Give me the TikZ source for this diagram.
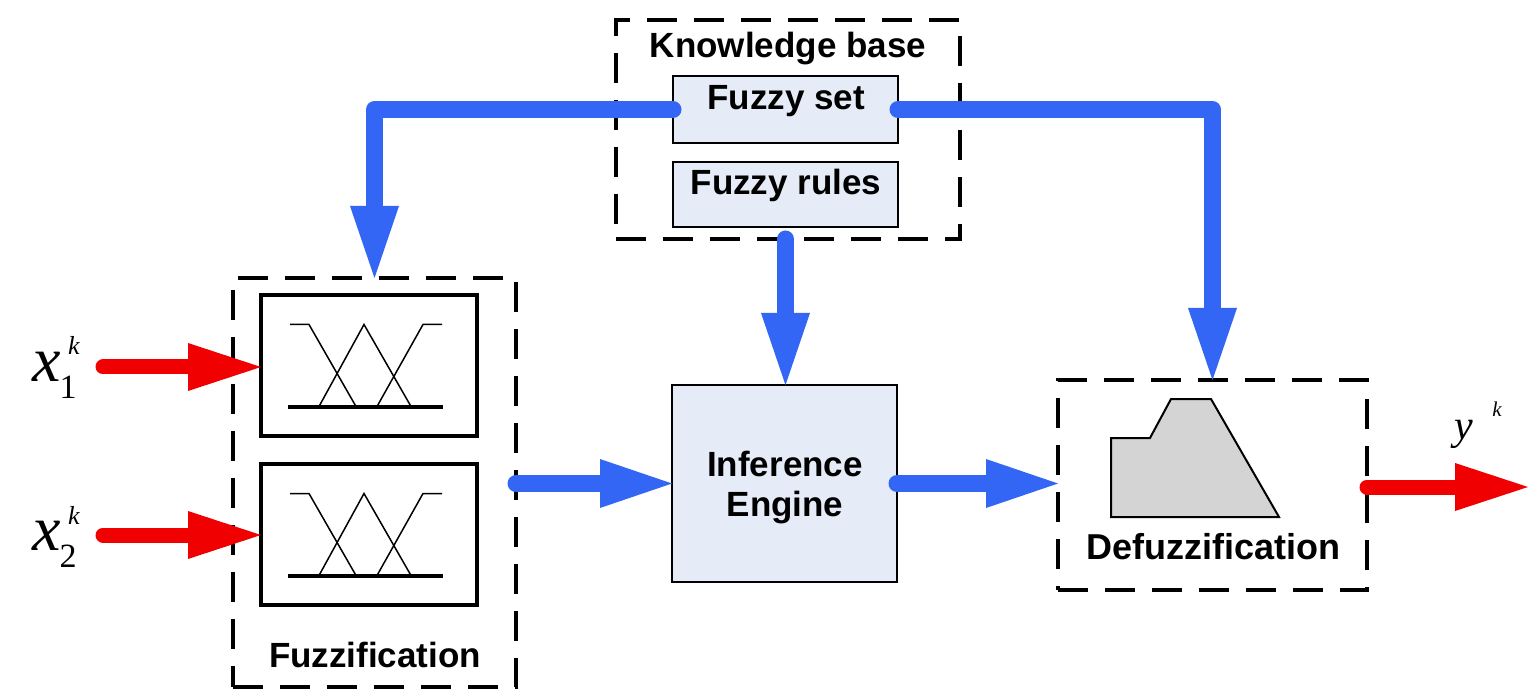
\documentclass[tikz,border=0pt]{standalone}
\usepackage{fontspec}
\setmainfont{Liberation Sans}
\newfontfamily\timesfont{Liberation Serif}
\usetikzlibrary{arrows.meta}
\definecolor{fzblue}{RGB}{51,102,245}
\definecolor{fzred}{RGB}{240,0,0}
\definecolor{boxfill}{RGB}{229,236,248}
\definecolor{shapegray}{RGB}{212,212,212}
\begin{document}
\begin{tikzpicture}[x=1pt,y=-1pt,
  dashbox/.style={draw, line width=3.2pt, dash pattern=on 30pt off 17pt, inner sep=0pt, outer sep=0pt},
  lightbox/.style={draw, line width=2pt, fill=boxfill, inner sep=0pt, outer sep=0pt},
  mfbox/.style={draw, line width=4pt, fill=white, inner sep=0pt, outer sep=0pt, minimum width=216pt, minimum height=141pt},
  lbl/.style={font=\fontsize{35}{42}\selectfont\bfseries, anchor=base, inner sep=0pt},
  bluearrow/.style={draw=fzblue, line width=17pt, line cap=round, line join=round,
    -{Triangle[length=72pt,width=49pt,line width=0pt]}},
  redarrow/.style={draw=fzred, line width=15pt, line cap=round,
    -{Triangle[length=73pt,width=48pt,line width=0pt]}},
  mfline/.style={line width=1.5pt},
  mfbase/.style={line width=4pt}
]
\useasboundingbox (0,0) rectangle (1539,700);
\fill[white] (0,0) rectangle (1539,700);

% Knowledge base
\node[dashbox, minimum width=344pt, minimum height=219pt] (kb) at (788,129.5) {};
\node[lbl, font=\fontsize{35}{42}\selectfont\bfseries] (kbl) at (788,58) {Knowledge base};
\node[lightbox, minimum width=225pt, minimum height=67pt] (fset) at (785.5,109.5) {};
\node[lbl] (fsetl) at (786,110) {Fuzzy set};
\node[lightbox, minimum width=225pt, minimum height=65pt] (frules) at (785.5,194.5) {};
\node[lbl] (frulesl) at (786,195) {Fuzzy rules};

% Fuzzification
\node[dashbox, minimum width=283pt, minimum height=409pt] (fuzz) at (374.5,482.5) {};
\node[mfbox] (mf1) at (369,365.5) {};
\node[mfbox] (mf2) at (369,534.5) {};
\node[lbl] (fuzzl) at (375,667) {Fuzzification};
\foreach \b in {mf1,mf2}{
  \begin{scope}[shift={(\b.center)}]
    \draw[mfline] (-79,-41) -- (-60,-41) -- (-13,41);
    \draw[mfline] (-50,41) -- (-5,-41) -- (42,41);
    \draw[mfline] (8,41) -- (54,-41) -- (73,-41);
    \draw[mfbase] (-81,41) -- (74,41);
  \end{scope}
}

% Inference engine
\node[lightbox, minimum width=225pt, minimum height=197pt] (inf) at (784.5,483.5) {};
\node[lbl] (infa) at (785,476) {Inference};
\node[lbl] (infb) at (785,516) {Engine};

% Defuzzification
\node[dashbox, minimum width=309pt, minimum height=210pt] (defuzz) at (1212.5,485) {};
\draw[line width=2pt, fill=shapegray] (1111,517) -- (1111,438) -- (1150,438) -- (1171,399)
  -- (1211,399) -- (1279,517) -- cycle;
\node[lbl, font=\fontsize{36}{43}\selectfont\bfseries] (defl) at (1213,559) {Defuzzification};

% Blue connectors
\draw[bluearrow] (fset.west) -| (fuzz.north);
\draw[bluearrow] (fset.east) -| (defuzz.north);
\draw[bluearrow] (frules.south |- kb.south) -- (frules.south |- inf.north);
\draw[bluearrow] (fuzz.east |- inf.west) -- (inf.west);
\draw[bluearrow] (inf.east) -- (inf.east -| defuzz.west);

% Red inputs / output
\coordinate (x1s) at (103,367);
\coordinate (x2s) at (103,535);
\coordinate (ye) at (1528,487);
\draw[redarrow] (x1s) -- (x1s -| mf1.west);
\draw[redarrow] (x2s) -- (x2s -| mf2.west);
\draw[redarrow] (ye -| defuzz.east) -- (ye);

% Variable labels
\node[inner sep=0pt, font=\timesfont\itshape\fontsize{64}{70}\selectfont] (xa) at (47,367) {x};
\node[inner sep=0pt, font=\timesfont\fontsize{34}{40}\selectfont] (xas) at (68,387) {1};
\node[inner sep=0pt, font=\timesfont\itshape\fontsize{26}{30}\selectfont] (xak) at (74,345) {k};
\node[inner sep=0pt, font=\timesfont\itshape\fontsize{64}{70}\selectfont] (xb) at (47,536) {x};
\node[inner sep=0pt, font=\timesfont\fontsize{34}{40}\selectfont] (xbs) at (68,556) {2};
\node[inner sep=0pt, font=\timesfont\itshape\fontsize{26}{30}\selectfont] (xbk) at (74,515) {k};
\node[inner sep=0pt, font=\timesfont\itshape\fontsize{42}{48}\selectfont] (yv) at (1464,434) {y};
\node[inner sep=0pt, font=\timesfont\itshape\fontsize{21}{25}\selectfont] (yk) at (1497,409) {k};
\end{tikzpicture}
\end{document}
